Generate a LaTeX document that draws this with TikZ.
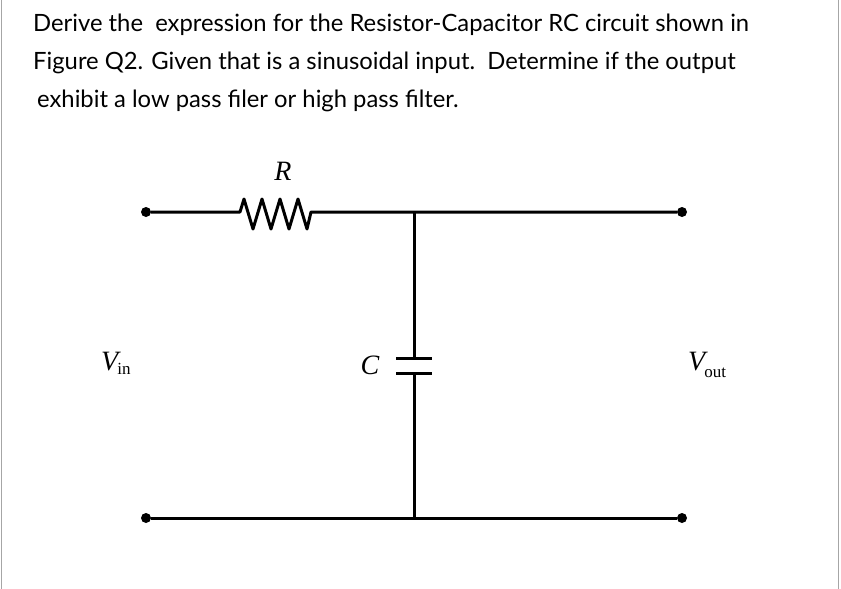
\documentclass[tikz,border=0pt]{standalone}
\usepackage{fontspec}
\setmainfont{Lato}
\newfontfamily\tms{Liberation Serif}
\begin{document}
\begin{tikzpicture}[x=1pt,y=-1pt,
  wire/.style={line width=3pt,black},
  dot/.style={circle,fill=black,inner sep=0pt,minimum size=10pt},
  lbl/.style={font=\tms\itshape\fontsize{28}{28}\selectfont,inner sep=0pt},
  txt/.style={font=\fontsize{23.8}{23.8}\selectfont,anchor=base west,inner sep=0pt}]
\useasboundingbox (0,0) rectangle (841,589);
\draw[gray!70,line width=0.8pt] (1,0) -- (1,589) (838.5,0) -- (838.5,589);
\node[txt] (t1) at (33,31) {Derive the \ expression for the Resistor-Capacitor RC circuit shown in};
\node[txt] (t2) at (33,69) {Figure Q2. Given that is a sinusoidal input.\ \ Determine if the output};
\node[txt] (t3) at (37,107) {exhibit a low pass filer or high pass filter.};
\node[dot] (a) at (146,212) {};
\node[dot] (b) at (682,212) {};
\node[dot] (c) at (146,518) {};
\node[dot] (d) at (682,518) {};
\coordinate (r1) at (240,212);
\coordinate (r2) at (318,212);
\coordinate (j) at (414,212);
\coordinate (jb) at (414,518);
\coordinate (p1) at (414,358);
\coordinate (p2) at (414,373);
\draw[wire,line join=round] (a) -- (r1) -- ++(4,-13) -- ++(9,30) -- ++(9,-30) -- ++(9,30) -- ++(9,-30) -- ++(9,30) -- ++(9,-30) -- ++(9,30) -- ++(4,-17) -- (r2) -- (j) -- (b);
\draw[wire] (j) -- (p1);
\draw[wire] (p2) -- (jb);
\draw[wire] (396,358) -- (432,358) (396,373) -- (432,373);
\draw[wire] (c) -- (d);
\node[lbl] (R) at (283,171) {R};
\node[lbl] (C) at (370,365) {C};
\node[lbl,anchor=base west] (vin) at (101,370) {V\kern-1pt\raisebox{-4pt}{\fontsize{17}{17}\selectfont\upshape in}};
\node[lbl,anchor=base west] (vout) at (688,370) {V\kern-1pt\raisebox{-7pt}{\fontsize{17}{17}\selectfont\upshape out}};
\end{tikzpicture}
\end{document}
